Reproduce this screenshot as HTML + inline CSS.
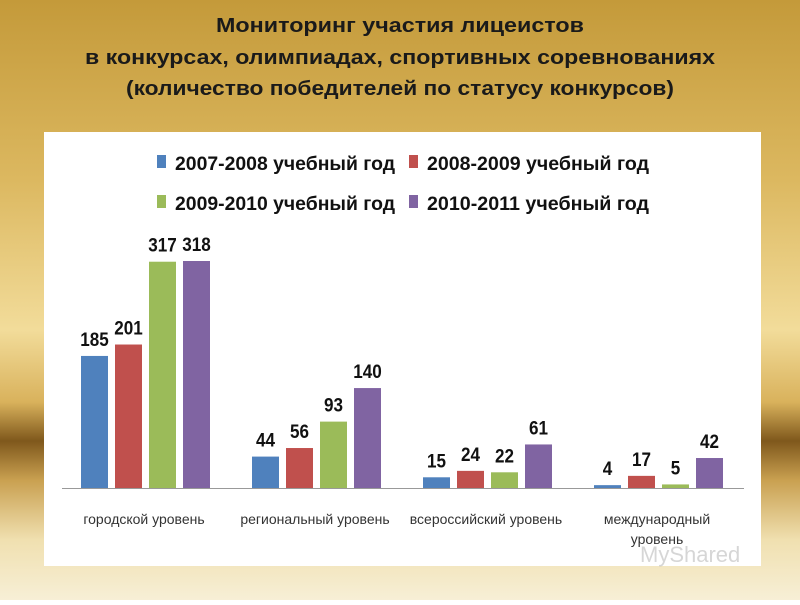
<!DOCTYPE html>
<html><head><meta charset="utf-8"><style>
body{margin:0;width:800px;height:600px;overflow:hidden;font-family:"Liberation Sans","DejaVu Sans",sans-serif}
</style></head><body>
<svg width="800" height="600" xmlns="http://www.w3.org/2000/svg">
<defs><linearGradient id="bg" x1="0" y1="0" x2="0" y2="1">
<stop offset="0" stop-color="#c49a3a"/><stop offset="0.3" stop-color="#dcb860"/>
<stop offset="0.55" stop-color="#f2dc9a"/><stop offset="0.67" stop-color="#d9b25c"/>
<stop offset="0.735" stop-color="#7f581c"/><stop offset="0.8" stop-color="#c9a050"/>
<stop offset="0.9" stop-color="#f0e0b0"/><stop offset="1" stop-color="#f7efd6"/></linearGradient></defs>
<rect width="800" height="600" fill="url(#bg)"/>
<g font-weight="bold" fill="#1a1a1a" font-size="20" text-anchor="middle">
<text x="400" y="32" textLength="368" lengthAdjust="spacingAndGlyphs">Мониторинг участия лицеистов</text>
<text x="400" y="64" textLength="630" lengthAdjust="spacingAndGlyphs">в конкурсах, олимпиадах, спортивных соревнованиях</text>
<text x="400" y="95" textLength="548" lengthAdjust="spacingAndGlyphs">(количество победителей по статусу конкурсов)</text>
</g>
<rect x="44" y="132" width="717" height="434" fill="#fff"/>
<g font-weight="bold" font-size="19" fill="#111">
<rect x="157" y="155" width="9" height="13" fill="#4f81bd"/>
<text x="175" y="170" textLength="220" lengthAdjust="spacingAndGlyphs">2007-2008 учебный год</text>
<rect x="409" y="155" width="9" height="13" fill="#c0504d"/>
<text x="427" y="170" textLength="222" lengthAdjust="spacingAndGlyphs">2008-2009 учебный год</text>
<rect x="157" y="195" width="9" height="13" fill="#9bbb59"/>
<text x="175" y="210" textLength="220" lengthAdjust="spacingAndGlyphs">2009-2010 учебный год</text>
<rect x="409" y="195" width="9" height="13" fill="#8064a2"/>
<text x="427" y="210" textLength="222" lengthAdjust="spacingAndGlyphs">2010-2011 учебный год</text>
</g>
<g id="plot"></g>
<line x1="62" y1="488.5" x2="744" y2="488.5" stroke="#999" stroke-width="1"/>
<text x="640" y="562" font-size="22" fill="#bbb" opacity="0.6">MyShared</text>
</svg>
<script>
const categories=["городской уровень","региональный уровень","всероссийский уровень","международный|уровень"];
const s2007=[185,44,15,4];
const s2008=[201,56,24,17];
const s2009=[317,93,22,5];
const s2010=[318,140,61,42];
const series=[s2007,s2008,s2009,s2010];
const colors=["#4f81bd","#c0504d","#9bbb59","#8064a2"];
const names=["2007","2008","2009","2010"];
const ns="http://www.w3.org/2000/svg";
const g=document.getElementById('plot');
const base=488,scale=227/318;
const y=v=>base-v*scale;
const x=(ci,si)=>81+ci*171+si*34;
const bw=27;
series.forEach((arr,si)=>arr.forEach((v,ci)=>{
  const r=document.createElementNS(ns,'rect');
  r.setAttribute('x',x(ci,si));r.setAttribute('y',y(v));
  r.setAttribute('width',bw);r.setAttribute('height',Math.max(base-y(v),0));
  r.setAttribute('fill',colors[si]);
  
  
  g.appendChild(r);
  const t=document.createElementNS(ns,'text');
  t.setAttribute('x',x(ci,si)+bw/2);t.setAttribute('y',y(v)-10);
  t.setAttribute('text-anchor','middle');t.setAttribute('font-size','19');
  t.setAttribute('font-weight','bold');t.setAttribute('fill','#111');
  t.setAttribute('textLength',String(v).length*9.5);
  t.setAttribute('lengthAdjust','spacingAndGlyphs');
  t.textContent=v;
  
  
  g.appendChild(t);
}));
categories.forEach((c,ci)=>{
  c.split('|').forEach((line,li)=>{
    const t=document.createElementNS(ns,'text');
    t.setAttribute('x',x(ci,0)+63);t.setAttribute('y',524+li*20);
    t.setAttribute('text-anchor','middle');t.setAttribute('font-size','14');
    t.setAttribute('fill','#333');
    t.textContent=line;
    
    
    g.appendChild(t);
  });
});
</script>
</body></html>
